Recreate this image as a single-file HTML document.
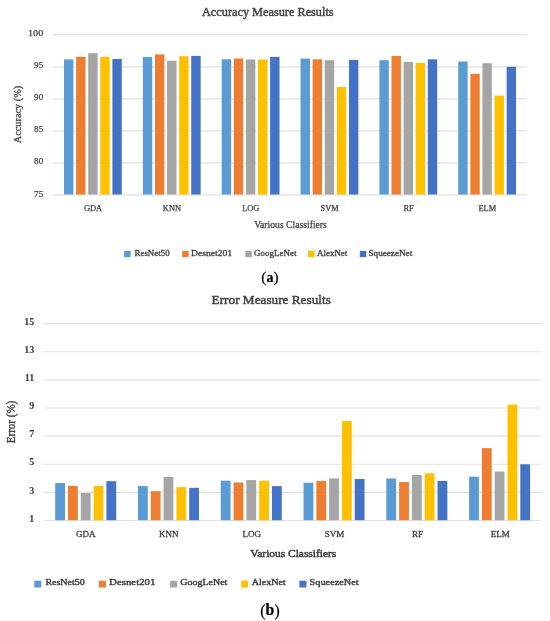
<!DOCTYPE html>
<html><head><meta charset="utf-8"><title>Accuracy and Error Measure Results</title>
<style>
html,body{margin:0;padding:0;background:#fff;}
body{width:550px;height:621px;overflow:hidden;}
svg{display:block;font-family:"Liberation Serif",serif;will-change:transform;}
</style></head>
<body>
<svg width="550" height="621" viewBox="0 0 550 621">
<rect width="550" height="621" fill="#fff"/>
<line x1="52.7" y1="34.6" x2="526.4" y2="34.6" stroke="#E0E0E0" stroke-width="1.2"/>
<text x="43.2" y="36.2" font-size="9.1" text-anchor="end" fill="#404040" textLength="15.2" lengthAdjust="spacingAndGlyphs" stroke="#404040" stroke-width="0.25">100</text>
<line x1="52.7" y1="66.80000000000001" x2="526.4" y2="66.80000000000001" stroke="#E0E0E0" stroke-width="1.2"/>
<text x="43.2" y="68.4" font-size="9.1" text-anchor="end" fill="#404040" stroke="#404040" stroke-width="0.25">95</text>
<line x1="52.7" y1="98.80000000000001" x2="526.4" y2="98.80000000000001" stroke="#E0E0E0" stroke-width="1.2"/>
<text x="43.2" y="100.4" font-size="9.1" text-anchor="end" fill="#404040" stroke="#404040" stroke-width="0.25">90</text>
<line x1="52.7" y1="130.8" x2="526.4" y2="130.8" stroke="#E0E0E0" stroke-width="1.2"/>
<text x="43.2" y="132.4" font-size="9.1" text-anchor="end" fill="#404040" stroke="#404040" stroke-width="0.25">85</text>
<line x1="52.7" y1="162.8" x2="526.4" y2="162.8" stroke="#E0E0E0" stroke-width="1.2"/>
<text x="43.2" y="164.4" font-size="9.1" text-anchor="end" fill="#404040" stroke="#404040" stroke-width="0.25">80</text>
<line x1="52.7" y1="194.9" x2="526.4" y2="194.9" stroke="#E0E0E0" stroke-width="1.2"/>
<text x="43.2" y="196.5" font-size="9.1" text-anchor="end" fill="#404040" stroke="#404040" stroke-width="0.25">75</text>
<rect x="64.00" y="59.35" width="9.40" height="135.15" fill="#5B9BD5"/>
<rect x="76.10" y="56.80" width="9.40" height="137.70" fill="#ED7D31"/>
<rect x="88.20" y="53.20" width="9.40" height="141.30" fill="#A5A5A5"/>
<rect x="100.30" y="56.80" width="9.40" height="137.70" fill="#FFC000"/>
<rect x="112.40" y="59.00" width="9.40" height="135.50" fill="#4472C4"/>
<text x="93.10" y="211.0" font-size="8.4" text-anchor="middle" fill="#404040" stroke="#404040" stroke-width="0.25">GDA</text>
<rect x="142.85" y="56.90" width="9.40" height="137.60" fill="#5B9BD5"/>
<rect x="154.95" y="54.40" width="9.40" height="140.10" fill="#ED7D31"/>
<rect x="167.05" y="60.70" width="9.40" height="133.80" fill="#A5A5A5"/>
<rect x="179.15" y="56.20" width="9.40" height="138.30" fill="#FFC000"/>
<rect x="191.25" y="55.90" width="9.40" height="138.60" fill="#4472C4"/>
<text x="171.95" y="211.0" font-size="8.4" text-anchor="middle" fill="#404040" stroke="#404040" stroke-width="0.25">KNN</text>
<rect x="221.70" y="59.30" width="9.40" height="135.20" fill="#5B9BD5"/>
<rect x="233.80" y="58.50" width="9.40" height="136.00" fill="#ED7D31"/>
<rect x="245.90" y="59.50" width="9.40" height="135.00" fill="#A5A5A5"/>
<rect x="258.00" y="59.50" width="9.40" height="135.00" fill="#FFC000"/>
<rect x="270.10" y="56.90" width="9.40" height="137.60" fill="#4472C4"/>
<text x="250.80" y="211.0" font-size="8.4" text-anchor="middle" fill="#404040" stroke="#404040" stroke-width="0.25">LOG</text>
<rect x="300.55" y="58.60" width="9.40" height="135.90" fill="#5B9BD5"/>
<rect x="312.65" y="59.30" width="9.40" height="135.20" fill="#ED7D31"/>
<rect x="324.75" y="60.20" width="9.40" height="134.30" fill="#A5A5A5"/>
<rect x="336.85" y="87.00" width="9.40" height="107.50" fill="#FFC000"/>
<rect x="348.95" y="59.90" width="9.40" height="134.60" fill="#4472C4"/>
<text x="329.65" y="211.0" font-size="8.4" text-anchor="middle" fill="#404040" stroke="#404040" stroke-width="0.25">SVM</text>
<rect x="379.40" y="60.20" width="9.40" height="134.30" fill="#5B9BD5"/>
<rect x="391.50" y="55.90" width="9.40" height="138.60" fill="#ED7D31"/>
<rect x="403.60" y="62.00" width="9.40" height="132.50" fill="#A5A5A5"/>
<rect x="415.70" y="62.90" width="9.40" height="131.60" fill="#FFC000"/>
<rect x="427.80" y="59.30" width="9.40" height="135.20" fill="#4472C4"/>
<text x="408.50" y="211.0" font-size="8.4" text-anchor="middle" fill="#404040" stroke="#404040" stroke-width="0.25">RF</text>
<rect x="458.25" y="61.50" width="9.40" height="133.00" fill="#5B9BD5"/>
<rect x="470.35" y="73.90" width="9.40" height="120.60" fill="#ED7D31"/>
<rect x="482.45" y="63.20" width="9.40" height="131.30" fill="#A5A5A5"/>
<rect x="494.55" y="95.60" width="9.40" height="98.90" fill="#FFC000"/>
<rect x="506.65" y="66.80" width="9.40" height="127.70" fill="#4472C4"/>
<text x="487.35" y="211.0" font-size="8.4" text-anchor="middle" fill="#404040" stroke="#404040" stroke-width="0.25">ELM</text>
<text x="267.8" y="15.6" font-size="12" text-anchor="middle" fill="#404040" textLength="131.6" lengthAdjust="spacingAndGlyphs" stroke="#404040" stroke-width="0.4">Accuracy Measure Results</text>
<text x="290.5" y="228.2" font-size="9.9" text-anchor="middle" fill="#404040" textLength="72.7" lengthAdjust="spacingAndGlyphs" stroke="#404040" stroke-width="0.25">Various Classifiers</text>
<text transform="translate(20.6,114.5) rotate(-90)" font-size="10.4" text-anchor="middle" fill="#404040" stroke="#404040" stroke-width="0.25" textLength="57.4" lengthAdjust="spacingAndGlyphs">Accuracy (%)</text>
<rect x="124.10" y="250.90" width="6.50" height="6.30" fill="#5B9BD5"/>
<text x="134.5" y="255.5" font-size="8.3" text-anchor="start" fill="#404040" textLength="35.1" lengthAdjust="spacingAndGlyphs" stroke="#404040" stroke-width="0.3">ResNet50</text>
<rect x="182.20" y="250.90" width="6.50" height="6.30" fill="#ED7D31"/>
<text x="191.1" y="255.5" font-size="8.3" text-anchor="start" fill="#404040" textLength="41.1" lengthAdjust="spacingAndGlyphs" stroke="#404040" stroke-width="0.3">Desnet201</text>
<rect x="245.30" y="250.90" width="6.50" height="6.30" fill="#A5A5A5"/>
<text x="254.0" y="255.5" font-size="8.3" text-anchor="start" fill="#404040" textLength="42.4" lengthAdjust="spacingAndGlyphs" stroke="#404040" stroke-width="0.3">GoogLeNet</text>
<rect x="308.00" y="250.90" width="6.50" height="6.30" fill="#FFC000"/>
<text x="317.0" y="255.5" font-size="8.3" text-anchor="start" fill="#404040" textLength="30.3" lengthAdjust="spacingAndGlyphs" stroke="#404040" stroke-width="0.3">AlexNet</text>
<rect x="359.80" y="250.90" width="6.50" height="6.30" fill="#4472C4"/>
<text x="368.5" y="255.5" font-size="8.3" text-anchor="start" fill="#404040" textLength="43.7" lengthAdjust="spacingAndGlyphs" stroke="#404040" stroke-width="0.3">SqueezeNet</text>
<text x="269.9" y="281.9" font-size="14.0" text-anchor="middle" fill="#000" font-weight="bold" stroke="#000" stroke-width="0.2"><tspan font-size="15.2" font-weight="normal">(</tspan>a<tspan font-size="15.2" font-weight="normal">)</tspan></text>
<line x1="43.8" y1="323.60" x2="541.2" y2="323.60" stroke="#E0E0E0" stroke-width="1.2"/>
<text x="34.2" y="324.80" font-size="10" text-anchor="end" fill="#404040" font-weight="bold" stroke="#404040" stroke-width="0.1">15</text>
<line x1="43.8" y1="351.73" x2="541.2" y2="351.73" stroke="#E0E0E0" stroke-width="1.2"/>
<text x="34.2" y="352.93" font-size="10" text-anchor="end" fill="#404040" font-weight="bold" stroke="#404040" stroke-width="0.1">13</text>
<line x1="43.8" y1="379.86" x2="541.2" y2="379.86" stroke="#E0E0E0" stroke-width="1.2"/>
<text x="34.2" y="381.06" font-size="10" text-anchor="end" fill="#404040" font-weight="bold" stroke="#404040" stroke-width="0.1">11</text>
<line x1="43.8" y1="407.99" x2="541.2" y2="407.99" stroke="#E0E0E0" stroke-width="1.2"/>
<text x="34.2" y="409.19" font-size="10" text-anchor="end" fill="#404040" font-weight="bold" stroke="#404040" stroke-width="0.1">9</text>
<line x1="43.8" y1="436.11" x2="541.2" y2="436.11" stroke="#E0E0E0" stroke-width="1.2"/>
<text x="34.2" y="437.31" font-size="10" text-anchor="end" fill="#404040" font-weight="bold" stroke="#404040" stroke-width="0.1">7</text>
<line x1="43.8" y1="464.24" x2="541.2" y2="464.24" stroke="#E0E0E0" stroke-width="1.2"/>
<text x="34.2" y="465.44" font-size="10" text-anchor="end" fill="#404040" font-weight="bold" stroke="#404040" stroke-width="0.1">5</text>
<line x1="43.8" y1="492.37" x2="541.2" y2="492.37" stroke="#E0E0E0" stroke-width="1.2"/>
<text x="34.2" y="493.57" font-size="10" text-anchor="end" fill="#404040" font-weight="bold" stroke="#404040" stroke-width="0.1">3</text>
<line x1="43.8" y1="520.50" x2="541.2" y2="520.50" stroke="#E0E0E0" stroke-width="1.2"/>
<text x="34.2" y="521.70" font-size="10" text-anchor="end" fill="#404040" font-weight="bold" stroke="#404040" stroke-width="0.1">1</text>
<rect x="55.20" y="483.10" width="9.80" height="37.10" fill="#5B9BD5"/>
<rect x="68.00" y="486.00" width="9.80" height="34.20" fill="#ED7D31"/>
<rect x="80.80" y="493.00" width="9.80" height="27.20" fill="#A5A5A5"/>
<rect x="93.60" y="486.00" width="9.80" height="34.20" fill="#FFC000"/>
<rect x="106.40" y="481.20" width="9.80" height="39.00" fill="#4472C4"/>
<text x="85.85" y="537.0" font-size="9.0" text-anchor="middle" fill="#404040" stroke="#404040" stroke-width="0.3">GDA</text>
<rect x="137.98" y="486.10" width="9.80" height="34.10" fill="#5B9BD5"/>
<rect x="150.78" y="491.20" width="9.80" height="29.00" fill="#ED7D31"/>
<rect x="163.58" y="476.90" width="9.80" height="43.30" fill="#A5A5A5"/>
<rect x="176.38" y="487.10" width="9.80" height="33.10" fill="#FFC000"/>
<rect x="189.18" y="487.80" width="9.80" height="32.40" fill="#4472C4"/>
<text x="168.75" y="537.0" font-size="9.0" text-anchor="middle" fill="#404040" stroke="#404040" stroke-width="0.3">KNN</text>
<rect x="220.76" y="480.70" width="9.80" height="39.50" fill="#5B9BD5"/>
<rect x="233.56" y="482.50" width="9.80" height="37.70" fill="#ED7D31"/>
<rect x="246.36" y="480.10" width="9.80" height="40.10" fill="#A5A5A5"/>
<rect x="259.16" y="480.70" width="9.80" height="39.50" fill="#FFC000"/>
<rect x="271.96" y="486.10" width="9.80" height="34.10" fill="#4472C4"/>
<text x="251.65" y="537.0" font-size="9.0" text-anchor="middle" fill="#404040" stroke="#404040" stroke-width="0.3">LOG</text>
<rect x="303.54" y="482.70" width="9.80" height="37.50" fill="#5B9BD5"/>
<rect x="316.34" y="480.90" width="9.80" height="39.30" fill="#ED7D31"/>
<rect x="329.14" y="478.40" width="9.80" height="41.80" fill="#A5A5A5"/>
<rect x="341.94" y="421.00" width="9.80" height="99.20" fill="#FFC000"/>
<rect x="354.74" y="479.00" width="9.80" height="41.20" fill="#4472C4"/>
<text x="334.55" y="537.0" font-size="9.0" text-anchor="middle" fill="#404040" stroke="#404040" stroke-width="0.3">SVM</text>
<rect x="386.32" y="478.50" width="9.80" height="41.70" fill="#5B9BD5"/>
<rect x="399.12" y="482.00" width="9.80" height="38.20" fill="#ED7D31"/>
<rect x="411.92" y="475.00" width="9.80" height="45.20" fill="#A5A5A5"/>
<rect x="424.72" y="473.30" width="9.80" height="46.90" fill="#FFC000"/>
<rect x="437.52" y="480.90" width="9.80" height="39.30" fill="#4472C4"/>
<text x="417.45" y="537.0" font-size="9.0" text-anchor="middle" fill="#404040" stroke="#404040" stroke-width="0.3">RF</text>
<rect x="469.10" y="476.70" width="9.80" height="43.50" fill="#5B9BD5"/>
<rect x="481.90" y="448.10" width="9.80" height="72.10" fill="#ED7D31"/>
<rect x="494.70" y="471.50" width="9.80" height="48.70" fill="#A5A5A5"/>
<rect x="507.50" y="404.60" width="9.80" height="115.60" fill="#FFC000"/>
<rect x="520.30" y="464.30" width="9.80" height="55.90" fill="#4472C4"/>
<text x="500.35" y="537.0" font-size="9.0" text-anchor="middle" fill="#404040" stroke="#404040" stroke-width="0.3">ELM</text>
<text x="271.2" y="303.9" font-size="13" text-anchor="middle" fill="#404040" textLength="119.2" lengthAdjust="spacingAndGlyphs" stroke="#404040" stroke-width="0.45">Error Measure Results</text>
<text x="293.3" y="557.3" font-size="11.4" text-anchor="middle" fill="#404040" textLength="86" lengthAdjust="spacingAndGlyphs" stroke="#404040" stroke-width="0.55">Various Classifiers</text>
<text transform="translate(14.9,422) rotate(-90)" font-size="11.6" text-anchor="middle" fill="#404040" stroke="#404040" stroke-width="0.35" textLength="42.4" lengthAdjust="spacingAndGlyphs">Error (%)</text>
<rect x="34.30" y="580.70" width="7.00" height="6.80" fill="#5B9BD5"/>
<text x="45.4" y="584.8" font-size="8.8" text-anchor="start" fill="#404040" textLength="39.4" lengthAdjust="spacingAndGlyphs" stroke="#404040" stroke-width="0.4">ResNet50</text>
<rect x="98.90" y="580.70" width="7.00" height="6.80" fill="#ED7D31"/>
<text x="109.1" y="584.8" font-size="8.8" text-anchor="start" fill="#404040" textLength="46.3" lengthAdjust="spacingAndGlyphs" stroke="#404040" stroke-width="0.4">Desnet201</text>
<rect x="170.20" y="580.70" width="7.00" height="6.80" fill="#A5A5A5"/>
<text x="180.3" y="584.8" font-size="8.8" text-anchor="start" fill="#404040" textLength="47.1" lengthAdjust="spacingAndGlyphs" stroke="#404040" stroke-width="0.4">GoogLeNet</text>
<rect x="241.10" y="580.70" width="7.00" height="6.80" fill="#FFC000"/>
<text x="251.8" y="584.8" font-size="8.8" text-anchor="start" fill="#404040" textLength="33.8" lengthAdjust="spacingAndGlyphs" stroke="#404040" stroke-width="0.4">AlexNet</text>
<rect x="299.40" y="580.70" width="7.00" height="6.80" fill="#4472C4"/>
<text x="309.6" y="584.8" font-size="8.8" text-anchor="start" fill="#404040" textLength="49.1" lengthAdjust="spacingAndGlyphs" stroke="#404040" stroke-width="0.4">SqueezeNet</text>
<text x="270.0" y="614.5" font-size="15.8" text-anchor="middle" fill="#000" font-weight="bold" stroke="#000" stroke-width="0.2"><tspan font-size="15.8" font-weight="normal" dy="1">(</tspan><tspan dy="-1">b</tspan><tspan font-size="15.8" font-weight="normal" dy="1">)</tspan></text>
</svg>
</body></html>
